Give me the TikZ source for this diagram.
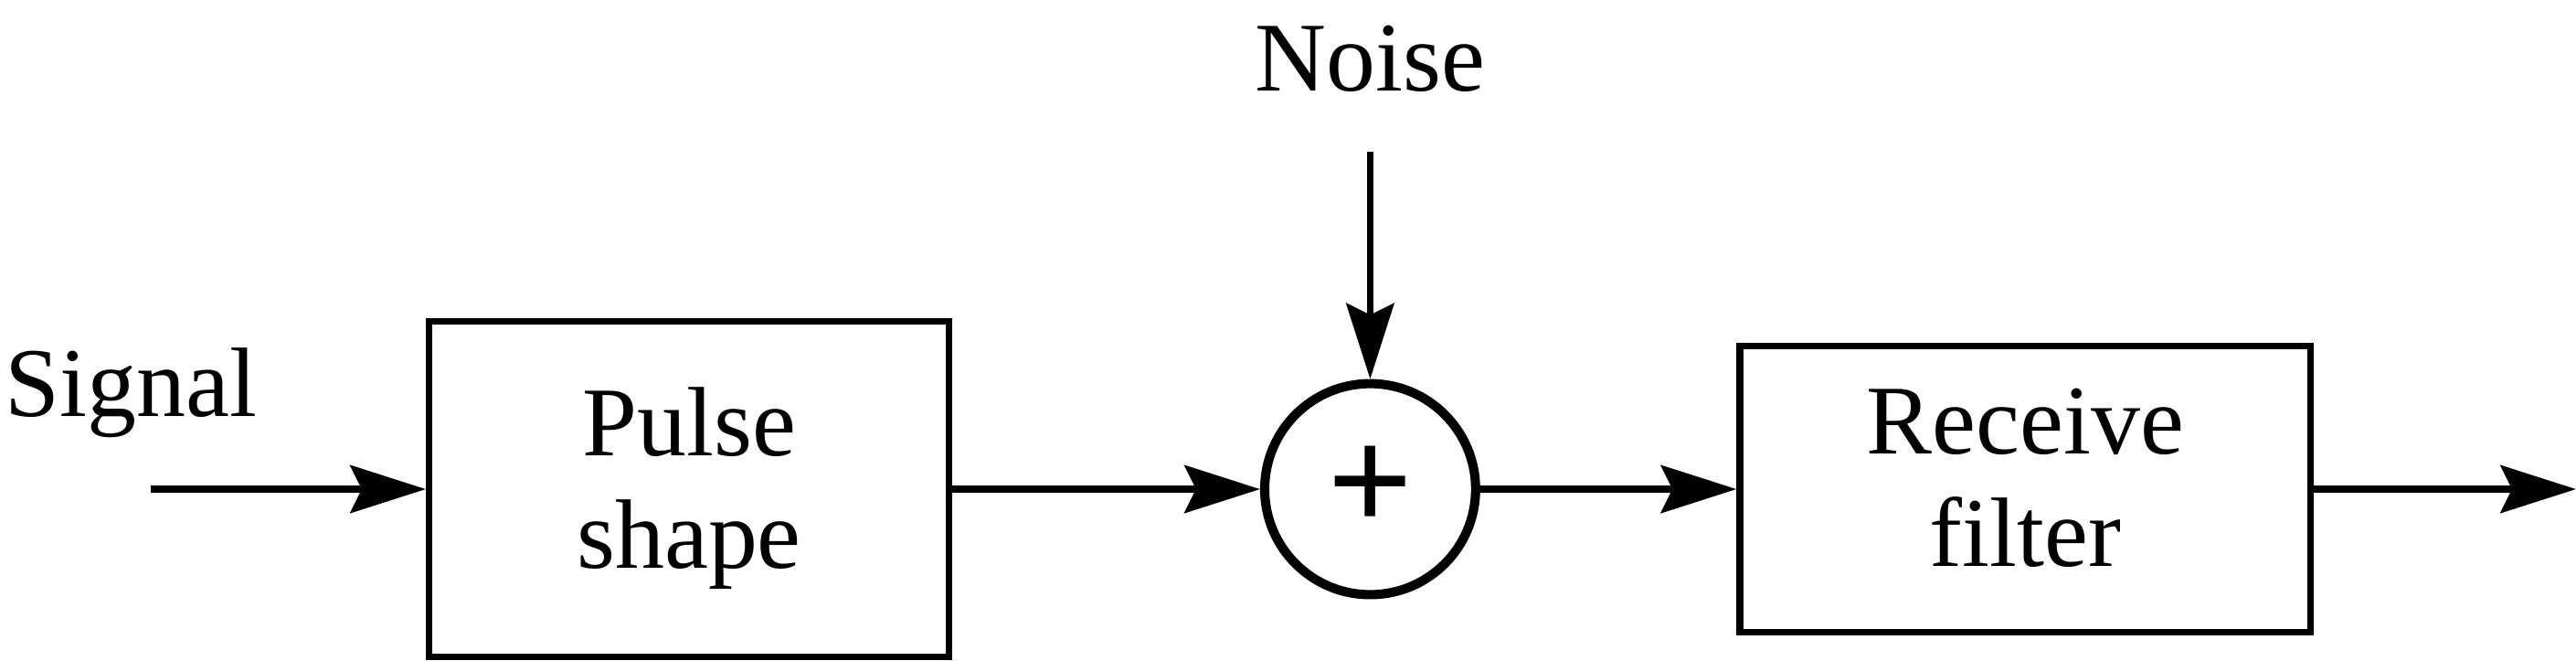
\documentclass[tikz,border=0pt]{standalone}
\usepackage{fontspec}
\setmainfont{Liberation Serif}
\usetikzlibrary{positioning}
\usetikzlibrary{arrows.meta, positioning}
\tikzstyle{arrow} = [line width=2.1pt, -{Stealth[length=23pt, width=14.5pt, inset=3.5pt]}]
\tikzstyle{block} = [draw, line width=2pt, inner sep=0pt, align=center,
  execute at begin node={\rule{0pt}{32pt}}, execute at end node={\rule[-7pt]{0pt}{7pt}}]
\tikzstyle{sum} = [draw, circle, line width=2.8pt, inner sep=0pt, minimum size=64.2pt]

\begin{document}
\begin{tikzpicture}[font=\fontsize{30}{34.2}\selectfont]
    \useasboundingbox (0,-52pt) rectangle (784pt,148.8pt);
    % Nodes
    \node[block, minimum width=158.2pt, minimum height=102pt] (pulse) at (209.7pt,0) {Pulse\\shape};
    \node[sum, right=93.7pt of pulse] (sum) {\fontsize{46}{46}\selectfont\bfseries +};
    \node[block, minimum width=173.8pt, minimum height=87pt, right=78pt of sum] (recv) {Receive\\filter};
    \coordinate (sigin) at (45.9pt,0);
    \coordinate (out) at (784pt,0);
    \coordinate[above=69.2pt of sum] (noisein);
    \node[anchor=base] (signal) at (40pt,22.2pt) {Signal};
    \node[anchor=base] (noise) at ([yshift=18.4pt]noisein) {Noise};

    % Edges
    \draw[arrow] (sigin) -- (pulse);
    \draw[arrow] (pulse) -- (sum);
    \draw[arrow] (noisein) -- (sum);
    \draw[arrow] (sum) -- (recv);
    \draw[arrow] (recv) -- (out);
\end{tikzpicture}
\end{document}
